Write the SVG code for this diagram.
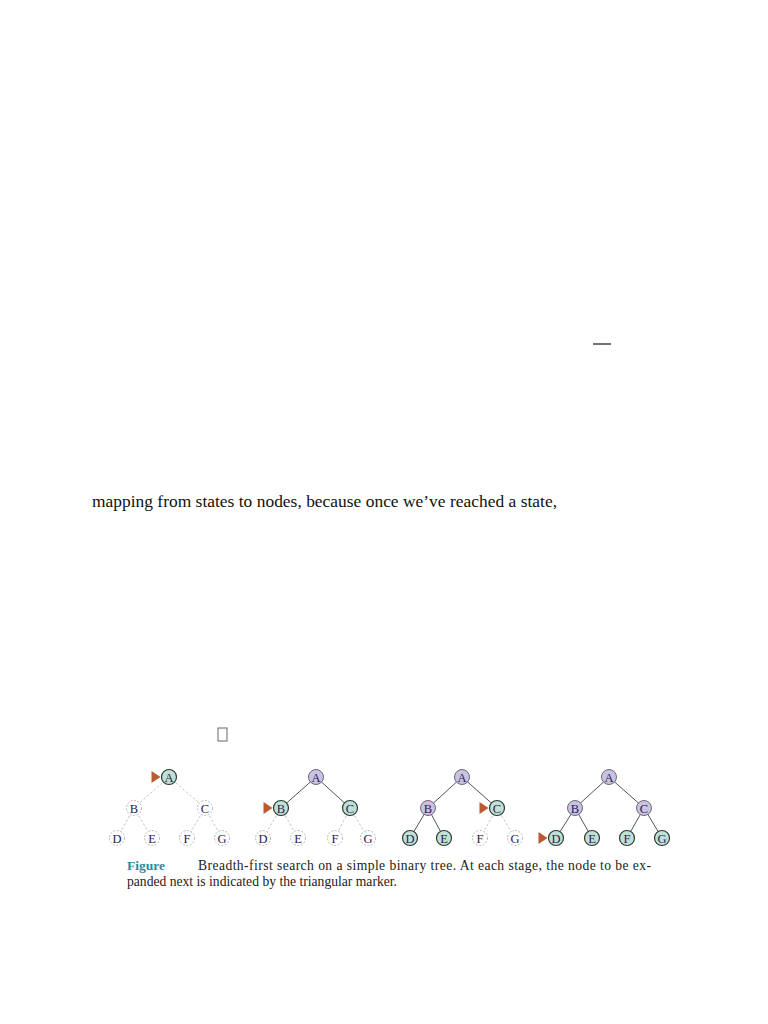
<svg xmlns="http://www.w3.org/2000/svg" width="768" height="1024" viewBox="0 0 768 1024">
<style>
.body{font-family:"Liberation Serif","Times New Roman",serif;font-size:17.4px;fill:#111}
.cap{font-family:"Liberation Serif","Times New Roman",serif;font-size:13.6px;fill:#222}
.fig{font-family:"Liberation Serif","Times New Roman",serif;font-size:13.5px;font-weight:bold;fill:#2b8a9c}
.lbl{font-family:"Liberation Serif","Times New Roman",serif;font-size:12.5px;fill:#2a2050;text-anchor:middle}
.frontier{fill:#bfe0d4;stroke:#2a3a34;stroke-width:1.2}
.expanded{fill:#c9c2e2;stroke:#6a6a7a;stroke-width:1}
.unseen{fill:#fff;stroke:#b8b8b8;stroke-width:1;stroke-dasharray:2 1.5}
.e{stroke:#555;stroke-width:1}
.ed{stroke:#c4c4c4;stroke-width:1;stroke-dasharray:2.5 2}
.mk{fill:#b95a34}
</style>
<rect width="768" height="1024" fill="#fff"/>
<line x1="593" y1="344" x2="611" y2="344" stroke="#444" stroke-width="1.5"/>
<text class="body" x="92" y="507" textLength="465" lengthAdjust="spacing">mapping from states to nodes, because once we’ve reached a state,</text>
<rect x="218" y="728" width="9" height="13" fill="none" stroke="#666" stroke-width="1"/>

<g id="connectors">
<line class="ed" x1="169" y1="777" x2="134" y2="808"/>
<line class="ed" x1="169" y1="777" x2="205" y2="808"/>
<line class="ed" x1="134" y1="808" x2="117" y2="838"/>
<line class="ed" x1="134" y1="808" x2="152" y2="838"/>
<line class="ed" x1="205" y1="808" x2="187" y2="838"/>
<line class="ed" x1="205" y1="808" x2="222" y2="838"/>
<line class="e" x1="316" y1="777" x2="281" y2="808"/>
<line class="e" x1="316" y1="777" x2="350" y2="808"/>
<line class="ed" x1="281" y1="808" x2="263" y2="838"/>
<line class="ed" x1="281" y1="808" x2="298" y2="838"/>
<line class="ed" x1="350" y1="808" x2="335" y2="838"/>
<line class="ed" x1="350" y1="808" x2="368" y2="838"/>
<line class="e" x1="462" y1="777" x2="428" y2="808"/>
<line class="e" x1="462" y1="777" x2="497" y2="808"/>
<line class="e" x1="428" y1="808" x2="410" y2="838"/>
<line class="e" x1="428" y1="808" x2="444" y2="838"/>
<line class="ed" x1="497" y1="808" x2="480" y2="838"/>
<line class="ed" x1="497" y1="808" x2="515" y2="838"/>
<line class="e" x1="609" y1="777" x2="575" y2="808"/>
<line class="e" x1="609" y1="777" x2="644" y2="808"/>
<line class="e" x1="575" y1="808" x2="556" y2="838"/>
<line class="e" x1="575" y1="808" x2="592" y2="838"/>
<line class="e" x1="644" y1="808" x2="627" y2="838"/>
<line class="e" x1="644" y1="808" x2="662" y2="838"/>
</g>

<g id="t1A"><circle class="frontier" cx="169" cy="777" r="7.5"/><text class="lbl" x="169" y="781.5">A</text></g>
<g id="t1B"><circle class="unseen" cx="134" cy="808" r="7.5"/><text class="lbl" x="134" y="812.5">B</text></g>
<g id="t1C"><circle class="unseen" cx="205" cy="808" r="7.5"/><text class="lbl" x="205" y="812.5">C</text></g>
<g id="t1D"><circle class="unseen" cx="117" cy="838" r="7.5"/><text class="lbl" x="117" y="842.5">D</text></g>
<g id="t1E"><circle class="unseen" cx="152" cy="838" r="7.5"/><text class="lbl" x="152" y="842.5">E</text></g>
<g id="t1F"><circle class="unseen" cx="187" cy="838" r="7.5"/><text class="lbl" x="187" y="842.5">F</text></g>
<g id="t1G"><circle class="unseen" cx="222" cy="838" r="7.5"/><text class="lbl" x="222" y="842.5">G</text></g>
<polygon class="mk" points="151.5,771 160.5,777 151.5,783"/>

<g id="t2A"><circle class="expanded" cx="316" cy="777" r="7.5"/><text class="lbl" x="316" y="781.5">A</text></g>
<g id="t2B"><circle class="frontier" cx="281" cy="808" r="7.5"/><text class="lbl" x="281" y="812.5">B</text></g>
<g id="t2C"><circle class="frontier" cx="350" cy="808" r="7.5"/><text class="lbl" x="350" y="812.5">C</text></g>
<g id="t2D"><circle class="unseen" cx="263" cy="838" r="7.5"/><text class="lbl" x="263" y="842.5">D</text></g>
<g id="t2E"><circle class="unseen" cx="298" cy="838" r="7.5"/><text class="lbl" x="298" y="842.5">E</text></g>
<g id="t2F"><circle class="unseen" cx="335" cy="838" r="7.5"/><text class="lbl" x="335" y="842.5">F</text></g>
<g id="t2G"><circle class="unseen" cx="368" cy="838" r="7.5"/><text class="lbl" x="368" y="842.5">G</text></g>
<polygon class="mk" points="263.5,802 272.5,808 263.5,814"/>

<g id="t3A"><circle class="expanded" cx="462" cy="777" r="7.5"/><text class="lbl" x="462" y="781.5">A</text></g>
<g id="t3B"><circle class="expanded" cx="428" cy="808" r="7.5"/><text class="lbl" x="428" y="812.5">B</text></g>
<g id="t3C"><circle class="frontier" cx="497" cy="808" r="7.5"/><text class="lbl" x="497" y="812.5">C</text></g>
<g id="t3D"><circle class="frontier" cx="410" cy="838" r="7.5"/><text class="lbl" x="410" y="842.5">D</text></g>
<g id="t3E"><circle class="frontier" cx="444" cy="838" r="7.5"/><text class="lbl" x="444" y="842.5">E</text></g>
<g id="t3F"><circle class="unseen" cx="480" cy="838" r="7.5"/><text class="lbl" x="480" y="842.5">F</text></g>
<g id="t3G"><circle class="unseen" cx="515" cy="838" r="7.5"/><text class="lbl" x="515" y="842.5">G</text></g>
<polygon class="mk" points="479.5,802 488.5,808 479.5,814"/>

<g id="t4A"><circle class="expanded" cx="609" cy="777" r="7.5"/><text class="lbl" x="609" y="781.5">A</text></g>
<g id="t4B"><circle class="expanded" cx="575" cy="808" r="7.5"/><text class="lbl" x="575" y="812.5">B</text></g>
<g id="t4C"><circle class="expanded" cx="644" cy="808" r="7.5"/><text class="lbl" x="644" y="812.5">C</text></g>
<g id="t4D"><circle class="frontier" cx="556" cy="838" r="7.5"/><text class="lbl" x="556" y="842.5">D</text></g>
<g id="t4E"><circle class="frontier" cx="592" cy="838" r="7.5"/><text class="lbl" x="592" y="842.5">E</text></g>
<g id="t4F"><circle class="frontier" cx="627" cy="838" r="7.5"/><text class="lbl" x="627" y="842.5">F</text></g>
<g id="t4G"><circle class="frontier" cx="662" cy="838" r="7.5"/><text class="lbl" x="662" y="842.5">G</text></g>
<polygon class="mk" points="538.5,832 547.5,838 538.5,844"/>

<text class="fig" x="127" y="870">Figure</text>
<text class="cap" x="198" y="870" textLength="453" lengthAdjust="spacing">Breadth-first search on a simple binary tree.  At each stage, the node to be ex-</text>
<text class="cap" x="127" y="886" textLength="270" lengthAdjust="spacing">panded next is indicated by the triangular marker.</text>
</svg>
